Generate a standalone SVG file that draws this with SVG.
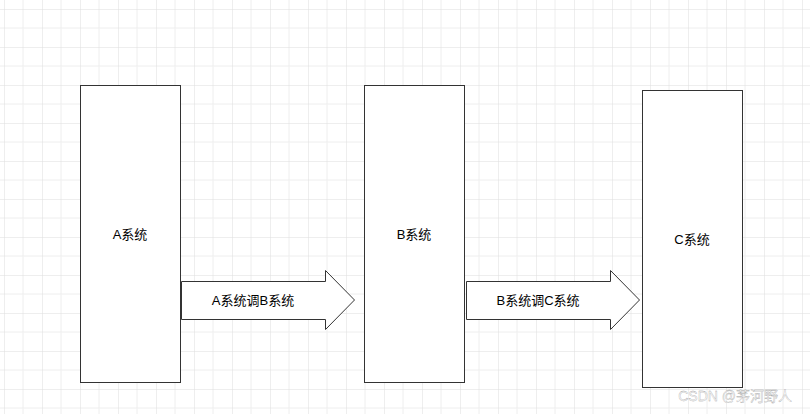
<svg xmlns="http://www.w3.org/2000/svg" width="810" height="414" viewBox="0 0 810 414">
<defs>
<pattern id="g" x="4" y="9" width="38" height="38" patternUnits="userSpaceOnUse">
<path d="M19 0V38M0 19H38" stroke="#eeeeee" stroke-width="1" fill="none"/>
<path d="M0 0V38M0 0H38" stroke="#dddddd" stroke-width="1" fill="none"/>
</pattern>
<style>
.n{fill:#fff;stroke:#333;stroke-width:1}
.t{font-family:"Liberation Sans","Noto Sans CJK SC",sans-serif;font-size:13px;fill:#000;text-anchor:middle}
</style>
</defs>
<rect width="810" height="414" fill="#fff"/>
<rect width="810" height="414" fill="url(#g)"/>
<g id="A"><rect class="n" x="80.5" y="85.5" width="100" height="297"/><text class="t" x="130" y="239">A系统</text></g>
<g id="B"><rect class="n" x="364.5" y="85.5" width="100" height="297"/><text class="t" x="414" y="239">B系统</text></g>
<g id="C"><rect class="n" x="642.5" y="90.5" width="100" height="297"/><text class="t" x="692" y="244">C系统</text></g>
<g id="connectors">
<g id="e1"><path class="n" d="M181.5 281.5H325.5V270.5L354.5 300L325.5 329.5V319.5H181.5Z"/><text class="t" x="253" y="305">A系统调B系统</text></g>
<g id="e2"><path class="n" d="M466.5 281.5H610.5V270.5L639.5 300L610.5 329.5V319.5H466.5Z"/><text class="t" x="538" y="305">B系统调C系统</text></g>
</g>
<text x="792" y="401" style="font-family:'Liberation Sans','Noto Sans CJK SC',sans-serif;font-size:14px;fill:#fff;stroke:#999;stroke-width:0.3;text-anchor:end">CSDN @茅河野人</text>
</svg>
